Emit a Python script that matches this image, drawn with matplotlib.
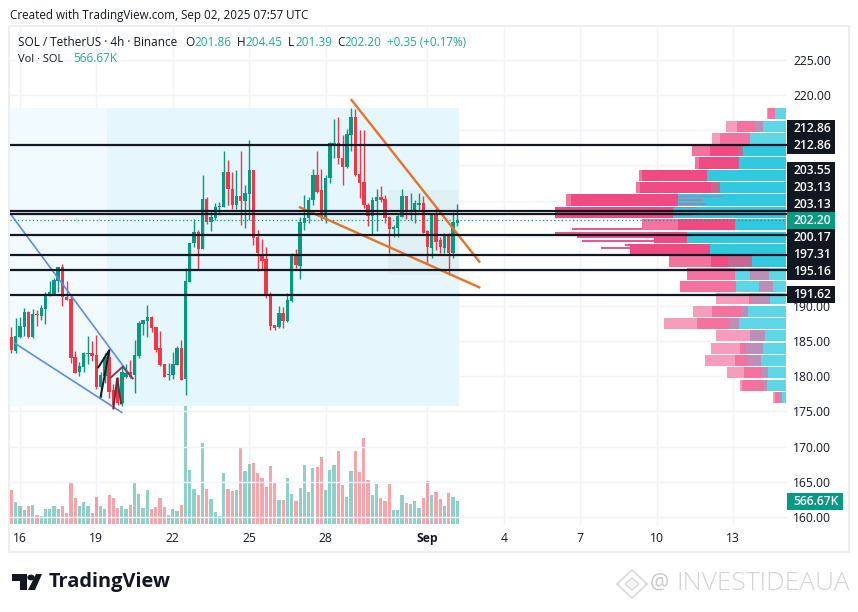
import numpy as np
import matplotlib
matplotlib.use("Agg")
import matplotlib.pyplot as plt
from matplotlib.patches import Rectangle, Polygon

plt.rcParams['font.family'] = ['Open Sans', 'DejaVu Sans']

# 4h candles
opens = [185.64, 183.65, 185.54, 187.06, 189.20, 185.54, 188.86, 188.58, 189.62, 191.57,
         191.71, 193.61, 195.50, 191.23, 190.95, 182.79, 180.66, 181.37, 183.17, 183.36,
         183.03, 178.43, 180.04, 182.79, 178.05, 179.71, 176.15, 179.95, 180.66, 180.19,
         182.89, 187.44, 187.82, 188.39, 187.06, 183.98, 181.75, 180.19, 180.19, 181.66,
         183.98, 179.57, 193.46, 198.92, 200.58, 198.11, 205.22, 202.00, 202.47, 204.04,
         204.13, 209.11, 206.65, 204.37, 205.65, 204.99, 205.94, 209.35, 199.86, 197.26,
         196.69, 191.57, 187.30, 186.97, 189.05, 187.92, 190.76, 197.26, 195.74, 201.76,
         202.47, 205.08, 208.64, 206.50, 202.71, 208.16, 213.05, 213.14, 211.01, 209.82,
         214.33, 216.84, 208.78, 207.69, 204.37, 202.80, 204.99, 205.56, 205.18, 202.62,
         200.91, 201.05, 202.71, 205.65, 203.42, 203.66, 204.37, 204.61, 200.67, 198.21,
         203.09, 199.39, 198.21, 200.24, 197.49, 201.86]
closes = [183.74, 185.73, 187.16, 189.20, 185.54, 188.86, 188.67, 189.67, 191.71, 192.04,
          193.70, 195.50, 191.23, 190.86, 182.65, 180.42, 181.47, 183.27, 183.36, 182.89,
          178.43, 180.14, 182.79, 177.82, 175.92, 176.15, 180.66, 180.42, 179.95, 183.03,
          187.63, 188.01, 188.39, 186.87, 183.74, 181.61, 179.95, 180.33, 181.75, 184.07,
          179.47, 193.56, 198.92, 200.58, 198.11, 205.22, 202.00, 202.62, 204.04, 204.23,
          209.11, 206.60, 204.37, 205.65, 204.99, 206.03, 209.35, 199.72, 197.49, 196.45,
          191.57, 187.16, 186.82, 189.05, 187.92, 190.86, 197.26, 195.84, 201.90, 202.47,
          205.08, 208.64, 206.27, 202.71, 208.26, 213.24, 213.14, 211.01, 209.82, 214.47,
          216.84, 208.64, 207.55, 204.37, 202.80, 205.08, 205.56, 205.08, 202.47, 200.96,
          201.19, 202.80, 205.65, 203.42, 203.56, 204.61, 204.61, 200.43, 198.35, 202.95,
          199.15, 198.35, 200.24, 197.49, 201.90, 202.20]
highs = [187.06, 188.25, 188.39, 189.67, 189.34, 189.53, 189.43, 190.14, 192.04, 193.61,
         193.94, 195.60, 195.98, 193.61, 191.71, 183.65, 182.08, 183.51, 185.73, 185.07,
         185.88, 180.66, 183.27, 183.74, 178.91, 179.85, 181.37, 181.75, 182.32, 185.16,
         187.92, 188.01, 190.14, 188.58, 187.06, 186.49, 181.75, 181.85, 183.51, 184.31,
         185.16, 195.36, 199.01, 202.33, 200.81, 208.64, 205.56, 203.56, 204.61, 204.84,
         212.05, 210.77, 209.11, 209.35, 212.05, 207.22, 213.62, 209.35, 200.81, 199.49,
         198.44, 192.04, 187.30, 190.00, 189.91, 191.80, 197.49, 198.06, 202.71, 205.79,
         205.56, 209.44, 212.05, 209.44, 208.64, 213.38, 216.60, 216.94, 214.33, 215.13,
         218.12, 217.98, 215.04, 215.04, 204.61, 205.56, 206.60, 207.07, 205.79, 202.80,
         201.52, 203.18, 206.60, 205.65, 206.03, 205.08, 206.03, 205.65, 200.81, 203.09,
         203.90, 199.87, 200.34, 200.34, 203.42, 204.45]
lows = [183.27, 183.27, 185.40, 185.73, 185.40, 185.40, 187.16, 188.01, 187.44, 191.42,
        191.57, 192.04, 190.00, 190.86, 181.85, 180.42, 180.04, 180.66, 181.75, 182.22,
        178.15, 177.10, 179.00, 176.87, 175.30, 175.92, 175.78, 179.71, 179.71, 177.67,
        182.56, 185.88, 185.54, 186.35, 183.51, 181.47, 179.95, 179.47, 179.57, 181.61,
        179.47, 177.34, 193.46, 198.44, 195.27, 198.11, 201.62, 200.72, 202.24, 202.95,
        204.13, 204.37, 203.75, 203.75, 201.52, 201.05, 202.24, 198.68, 195.03, 195.12,
        191.09, 186.59, 186.59, 186.82, 186.82, 187.77, 190.62, 195.36, 193.80, 200.81,
        201.76, 204.37, 206.03, 202.24, 201.86, 207.45, 211.01, 210.20, 207.22, 209.59,
        212.10, 208.50, 205.32, 203.90, 201.38, 200.10, 200.72, 204.84, 201.86, 197.59,
        199.87, 199.87, 202.71, 202.33, 202.24, 201.76, 203.56, 200.34, 196.07, 196.78,
        197.97, 197.59, 197.49, 194.41, 196.88, 201.39]

# volume in thousands of SOL
volumes = [836, 541, 443, 344, 443, 467, 221, 197, 369, 369,
           443, 369, 443, 271, 1009, 640, 443, 541, 443, 271,
           664, 443, 369, 713, 640, 394, 443, 369, 467, 1033,
           738, 394, 836, 369, 418, 640, 418, 221, 369, 320,
           467, 3050, 1328, 861, 713, 1993, 861, 615, 295, 197,
           1255, 861, 812, 836, 1894, 1304, 1476, 1501, 1255, 1132,
           910, 1427, 1009, 590, 590, 1132, 738, 566, 886, 1451,
           787, 1378, 1402, 1648, 836, 1328, 1451, 1796, 959, 664,
           1304, 1796, 1279, 2116, 1082, 713, 984, 640, 566, 984,
           344, 344, 713, 517, 492, 566, 394, 640, 1058, 713,
           787, 615, 443, 763, 664, 567]

# visible range volume profile, widths stacked from the right edge
profile_prices = [217.36, 215.60, 213.85, 212.10, 210.34, 208.59, 206.83, 205.08,
                  203.32, 201.57, 199.81, 198.06, 196.30, 194.55, 192.79, 191.04,
                  189.28, 187.53, 185.77, 184.02, 182.26, 180.51, 178.75, 177.00]
profile_up = [11, 23, 36, 43, 47, 79, 66, 108, 113, 51, 99, 76, 34, 17, 13, 16, 38, 47, 21, 23, 25, 18, 19, 4]
profile_mix = [0, 8, 0, 5, 1, 0, 9, 0, 0, 0, 0, 0, 24, 19, 14, 19, 7, 9, 15, 18, 13, 7, 3, 3]
profile_up2 = [0, 0, 0, 0, 0, 0, 0, 0, 0, 0, 0, 0, 0, 15, 23, 0, 0, 0, 0, 0, 0, 0, 0, 0]
profile_down = [7, 18, 30, 28, 39, 65, 71, 107, 118, 57, 33, 80, 17, 48, 56, 2, 29, 33, 0, 5, 13, 17, 22, 4]
profile_out = [1, 11, 8, 18, 4, 3, 4, 5, 0, 36, 0, 0, 42, 0, 0, 33, 19, 33, 34, 29, 30, 17, 2, 2]
strong_rows = [3, 4, 5, 6, 7, 8, 9, 10, 11, 12]

# thin rows of the finer profile
thin_pink_prices = [200.91, 200.34, 199.77, 199.25, 198.73, 198.21, 197.69]
thin_pink_widths = [214, 231, 209, 204, 161, 185, 156]
thin_mix_prices = [205.56, 205.08, 204.52, 204.00, 202.95]
thin_mix_start = [63, 83, 80, 90, 93]
thin_mix_widths = [45, 25, 27, 23, 20]

level_prices = [212.86, 203.55, 203.13, 200.17, 197.31, 195.16, 191.62]
last_price = 202.20

tag_texts = ['212.86', '212.86', '203.55', '203.13', '203.13', '202.20', '200.17', '197.31', '195.16', '191.62']
tag_prices = [215.27, 212.86, 209.31, 206.90, 204.48, 202.20, 199.80, 197.38, 194.97, 191.70]
tag_colors = ['#131722'] * 5 + ['#089981'] + ['#131722'] * 4

price_ticks = [225, 220, 190, 185, 180, 175, 170, 165, 160]
grid_prices = [225, 220, 215, 210, 205, 200, 195, 190, 185, 180, 175, 170, 165, 160]
time_ticks = [2, 20, 38, 56, 74, 98, 116, 134, 152, 170]
time_labels = ['16', '19', '22', '25', '28', 'Sep', '4', '7', '10', '13']

# drawings: bar index and price
blue_upper_x, blue_upper_y = [-0.35, 28.3], [203.19, 179.86]
blue_lower_x, blue_lower_y = [0.82, 25.95], [184.69, 174.87]
black_zig_x, black_zig_y = [20.45, 23.05, 21.0], [181.28, 183.74, 177.10]
maroon_x, maroon_y = [23.45, 26.2, 28.55], [179.86, 181.37, 179.71]
dark_zig_x, dark_zig_y = [24.0, 24.9, 25.8], [175.45, 179.71, 176.15]
orange_upper_x, orange_upper_y = [80.1, 110.2], [219.31, 196.31]
orange_lower_x, orange_lower_y = [67.96, 110.2], [204.04, 192.66]

W, H = 858, 612
GREEN = '#089981'
RED = '#F23645'
TEXT = '#131722'
GRID = '#F0F3FA'

fig = plt.figure(figsize=(W / 100, H / 100), dpi=100, facecolor='white')


def px_text(x, y, s, **kw):
    kw.setdefault('fontsize', 8.7)
    kw.setdefault('color', TEXT)
    kw.setdefault('va', 'center')
    return fig.text(x / W, 1 - y / H, s, **kw)


def px_poly(points, **kw):
    fig.add_artist(Polygon([(a / W, 1 - b / H) for a, b in points], transform=fig.transFigure, **kw))


# pane is 10..787 across, 28..525 down
rect = [10 / W, 1 - 525 / H, 777 / W, 497 / H]
xlim = (-0.353, 182.69)
ylim = (158.85, 229.55)

# chart frame
fig.add_artist(Rectangle((9 / W, 1 - 552 / H), 840 / W, 526 / H, transform=fig.transFigure,
                         fill=False, edgecolor='#ECEEF2', linewidth=1.5))

# volume goes at the back
ax_vol = fig.add_axes(rect, zorder=1)
x = np.arange(len(opens))
up = np.array(closes) >= np.array(opens)
for i in time_ticks:
    ax_vol.axvline(i, color=GRID, lw=1, zorder=0)
ax_vol.bar(x, volumes, width=0.76, color=[GREEN if u else RED for u in up], alpha=0.45, zorder=2)
ax_vol.set_xlim(xlim)
ax_vol.set_ylim(-24.6, 12200)
ax_vol.axis('off')

ax_prof = fig.add_axes(rect, zorder=2)
ax_prof.patch.set_alpha(0)
for p in grid_prices:
    ax_prof.axhline(p, color=GRID, lw=1, zorder=0)
left = np.zeros(len(profile_prices))
seg_names = [profile_up, profile_mix, profile_up2, profile_down, profile_out]
soft = ['#5DD6E8', '#BC90B6', '#5DD6E8', '#F3729E', '#F59DBB']
strong = ['#30C9DF', '#C4688F', '#30C9DF', '#F04A82', '#F3729E']
for seg, c_soft, c_strong in zip(seg_names, soft, strong):
    cols = [c_strong if i in strong_rows else c_soft for i in range(len(seg))]
    ax_prof.barh(profile_prices, seg, left=left, height=1.58, color=cols, zorder=2)
    left = left + np.array(seg)
ax_prof.barh(thin_pink_prices, thin_pink_widths, height=0.28, color='#F0568A', zorder=1)
ax_prof.barh(thin_mix_prices, thin_mix_widths, left=thin_mix_start, height=0.22, color='#B07CA8', zorder=3)
ax_prof.set_xlim(776, -1)
ax_prof.set_ylim(ylim)
ax_prof.axis('off')

# main pane, candles and drawings
ax = fig.add_axes(rect, zorder=3)
ax.patch.set_alpha(0)
ax.set_xlim(xlim)
ax.set_ylim(ylim)

ax.add_patch(Rectangle((xlim[0], 175.78), 22.9, 42.39, facecolor='#F1FAFE', edgecolor='none', zorder=1))
ax.add_patch(Rectangle((22.55, 175.78), 82.9, 42.39, facecolor='#E5F6FC', edgecolor='none', zorder=1))
ax.add_patch(Rectangle((88.7, 194.4), 16.75, 12.1, facecolor='#C8D8D0', edgecolor='none', alpha=0.18, zorder=1))

colors = [GREEN if u else RED for u in up]
ax.vlines(x, lows, highs, color=colors, lw=1.0, zorder=3)
ax.bar(x, np.abs(np.array(closes) - np.array(opens)), bottom=np.minimum(opens, closes),
       width=0.8, color=colors, zorder=3)

ax.plot(blue_upper_x, blue_upper_y, color='#5B8DF0', lw=1.2, zorder=4)
ax.plot(blue_lower_x, blue_lower_y, color='#5B8DF0', lw=1.2, zorder=4)
ax.plot(black_zig_x, black_zig_y, color='#131722', lw=1.4, zorder=4)
ax.plot(maroon_x, maroon_y, color='#8A3B52', lw=1.4, zorder=4)
ax.plot(dark_zig_x, dark_zig_y, color='#6B2A3A', lw=1.4, zorder=4)
ax.plot(orange_upper_x, orange_upper_y, color='#E9722A', lw=1.7, zorder=5)
ax.plot(orange_lower_x, orange_lower_y, color='#E9722A', lw=1.7, zorder=5)

for p in level_prices:
    ax.axhline(p, color=TEXT, lw=1.6, zorder=6)
ax.axhline(last_price, color=GREEN, lw=0.9, ls=(0, (1, 2)), zorder=4)

ax.yaxis.tick_right()
ax.set_yticks(price_ticks)
ax.set_yticklabels(['%.2f' % p for p in price_ticks])
ax.set_xticks(time_ticks)
ax.set_xticklabels(time_labels)
ax.tick_params(axis='y', length=0, pad=4.5, labelsize=8.7, labelcolor=TEXT)
ax.tick_params(axis='x', length=0, pad=5, labelsize=8.7, labelcolor=TEXT)
ax.get_xticklabels()[5].set_fontweight('bold')
for s in ax.spines.values():
    s.set_visible(False)

# price tags on the axis
trans = ax.get_yaxis_transform()
tag_h = 17 / 7.03
for txt, p, c in zip(tag_texts, tag_prices, tag_colors):
    ax.add_patch(Rectangle((1.0, p - tag_h / 2), 48 / 777, tag_h, transform=trans, facecolor=c,
                           edgecolor='none', clip_on=False, zorder=8))
    ax.text(1 + 6 / 777, p, txt, transform=trans, color='white', fontsize=8.7, fontweight='semibold',
            va='center', ha='left', zorder=9, clip_on=False)
vol_tag_p = 225 - (502 - 60) / 7.03
ax.add_patch(Rectangle((1.0, vol_tag_p - tag_h / 2), 56 / 777, tag_h, transform=trans, facecolor=GREEN,
                       edgecolor='none', clip_on=False, zorder=8))
ax.text(1 + 6 / 777, vol_tag_p, '566.67K', transform=trans, color='white', fontsize=8.7,
        fontweight='semibold', va='center', zorder=9, clip_on=False)

# header texts
TEAL = '#22AB94'
px_text(10, 15, 'Created with TradingView.com, Sep 02, 2025 07:57 UTC', fontsize=8.35)
px_text(18, 42, 'SOL / TetherUS · 4h · Binance', fontsize=8.45)
px_text(185, 42, 'O', fontsize=8.5)
px_text(194, 42, '201.86', color=TEAL, fontsize=8.5)
px_text(237, 42, 'H', fontsize=8.5)
px_text(245, 42, '204.45', color=TEAL, fontsize=8.5)
px_text(288, 42, 'L', fontsize=8.5)
px_text(295, 42, '201.39', color=TEAL, fontsize=8.5)
px_text(337, 42, 'C', fontsize=8.5)
px_text(344, 42, '202.20', color=TEAL, fontsize=8.5)
px_text(387, 42, '+0.35 (+0.17%)', color=TEAL, fontsize=8.35)
px_text(18, 59, 'Vol · SOL', fontsize=8.0)
px_text(73, 59, '566.67K', color=TEAL, fontsize=8.5)

# bottom logo
px_poly([(12, 574), (27, 574), (27, 590), (20, 590), (20, 581), (12, 581)], facecolor='#131722', edgecolor='none')
fig.add_artist(plt.Circle((31 / W, 1 - 577.5 / H), 0.0035, transform=fig.transFigure, color='#131722'))
px_poly([(36, 574), (42, 574), (35, 590), (28, 590)], facecolor='#131722', edgecolor='none')
px_text(49, 582, 'TradingView', fontsize=14.4, fontweight='bold')

# watermark
px_poly([(632, 570), (647, 584), (632, 598), (617, 584)], fill=False, edgecolor='#D8D8D8', lw=1.2)
px_poly([(632, 578), (639, 584), (632, 590), (625, 584)], fill=False, edgecolor='#D8D8D8', lw=1.0)
px_text(650, 583, '@', fontsize=15.5, color='#C9C9C9')
px_text(676, 583, 'INVESTIDEAUA', fontsize=19, color='#D4D4D4', fontweight='light')

fig.savefig('out.png', dpi=100)
